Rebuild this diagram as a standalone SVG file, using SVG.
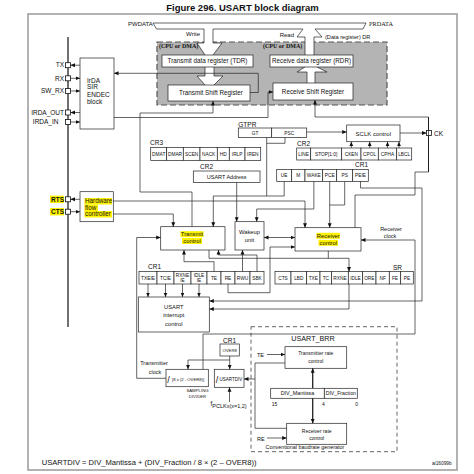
<svg xmlns="http://www.w3.org/2000/svg" width="474" height="474" viewBox="0 0 474 474">
<style>
text{font-family:"Liberation Sans",Arial,sans-serif;fill:#111}
.serif{font-family:"Liberation Serif","Times New Roman",serif}
.b{fill:#fff;stroke:#222;stroke-width:0.7}
.l{fill:none;stroke:#222;stroke-width:0.7}
.a{fill:none;stroke:#222;stroke-width:0.7;marker-end:url(#ah)}
.hl{fill:#fff200}
.pin{fill:#fff;stroke:#111;stroke-width:0.8}
.r{font-size:4.8px;text-anchor:middle}
.c{text-anchor:middle}
</style>
<defs>
<marker id="ah" viewBox="0 0 8 8" refX="8" refY="4" markerWidth="4.5" markerHeight="4.5" markerUnits="userSpaceOnUse" orient="auto-start-reverse"><path d="M0,0.5 L8,4 L0,7.5 z" fill="#111"/></marker>
</defs>
<rect width="474" height="474" fill="#fff"/>
<text x="242.5" y="11" font-size="9.5" font-weight="bold" class="c">Figure 296. USART block diagram</text>
<rect x="28" y="14" width="429" height="456" fill="none" stroke="#999" stroke-width="1.5"/>

<!-- data bus region -->
<g id="databus">
<text x="128" y="25.5" font-size="6">PWDATA</text>
<text x="369" y="25.5" font-size="6.3" class="serif">PRDATA</text>
<path class="l" d="M153,23 H366 L363,29 M153,23 L156.5,29 H204 M213,29 H303 M315,29 H363"/>
<text x="200" y="35.5" font-size="6" text-anchor="end">Write</text>
<text x="294" y="36.5" font-size="6" text-anchor="end">Read</text>
<text x="325" y="38.5" font-size="5.6">(Data register) DR</text>
</g>

<g id="cpu-dma-region">
<rect x="157" y="42" width="230" height="63" fill="#b4b4b4" stroke="#555" stroke-width="1.2" stroke-dasharray="6 3"/>
<text x="159" y="47.5" font-size="6" font-weight="bold" class="serif">(CPU or DMA)</text>
<text x="263" y="47.5" font-size="6" font-weight="bold" class="serif">(CPU or DMA)</text>
<polygon points="204,29 204,43 197,43 205,55 213,55 222,43 213,43 213,29" fill="#fff"/>
<path class="l" d="M204,29 V43 H197 L205,55 M213,55 L222,43 H213 V29"/>
<polygon points="305,55 305,37 297,37 303,29 315,29 322,37 314,37 314,55" fill="#fff"/>
<path class="l" d="M305,55 V37 H297 L303,29 M315,29 L322,37 H314 V55"/>
<polygon points="205,67 205,76 197,76 205,85 214,85 223,76 214,76 214,67" fill="#fff"/>
<path class="l" d="M205,67 V76 H197 L205,85 M214,85 L223,76 H214 V67"/>
<polygon points="307,83 307,72 297,72 305,67 317,67 327,72 315,72 315,83" fill="#fff"/>
<path class="l" d="M307,83 V72 H297 L305,67 M317,67 L327,72 H315 V83"/>
</g>
<g id="tdr"><rect class="b" x="162" y="55" width="91" height="12"/><text x="207.5" y="63.2" font-size="6.3" class="c">Transmit data register (TDR)</text></g>
<g id="rdr"><rect class="b" x="270" y="55" width="83" height="12"/><text x="311.5" y="63.2" font-size="6.3" class="c">Receive data register (RDR)</text></g>
<g id="tsr"><rect class="b" x="168" y="85" width="82" height="16"/><text x="211" y="95.2" font-size="6.3" class="c">Transmit Shift Register</text></g>
<g id="rsr"><rect class="b" x="273" y="83" width="80" height="17"/><text x="313" y="93.7" font-size="6.3" class="c">Receive Shift Register</text></g>

<!-- left pins -->
<g id="pins-left">
<line x1="68" y1="37" x2="68" y2="327" stroke="#111" stroke-width="1.2"/>
<text x="64" y="67.4" font-size="6.5" text-anchor="end">TX</text>
<text x="64" y="80.5" font-size="6.5" text-anchor="end">RX</text>
<text x="64" y="93.2" font-size="6.5" text-anchor="end">SW_RX</text>
<text x="64" y="114.7" font-size="6.5" text-anchor="end">IRDA_OUT</text>
<text x="58.5" y="124.2" font-size="6.5" text-anchor="end">IRDA_IN</text>
<rect class="hl" x="50" y="195.6" width="14" height="7.4"/>
<rect class="hl" x="50" y="208" width="14" height="7.4"/>
<text x="64" y="201.7" font-size="6.5" font-weight="bold" text-anchor="end">RTS</text>
<text x="64" y="214.1" font-size="6.5" font-weight="bold" text-anchor="end">CTS</text>
<rect class="pin" x="65.5" y="62.7" width="5" height="5"/>
<rect class="pin" x="65.5" y="75.8" width="5" height="5"/>
<rect class="pin" x="65.5" y="88.5" width="5" height="5"/>
<rect class="pin" x="65.5" y="110" width="5" height="5"/>
<rect class="pin" x="65.5" y="119.5" width="5" height="5"/>
<rect class="pin" x="65.5" y="196.8" width="5" height="5"/>
<rect class="pin" x="65.5" y="209.2" width="5" height="5"/>
</g>

<g id="irda"><rect class="b" x="80" y="58" width="34" height="71"/>
<text x="87" y="82.5" font-size="6.5">IrDA</text><text x="87" y="89" font-size="6.5">SIR</text><text x="87" y="96.8" font-size="6.5">ENDEC</text><text x="87" y="104" font-size="6.5">block</text></g>

<g id="hw-flow"><rect class="b" x="80" y="191.7" width="33.3" height="30"/>
<rect class="hl" x="84.5" y="198" width="27.5" height="6.5"/><rect class="hl" x="84.5" y="204.5" width="13.5" height="6.5"/><rect class="hl" x="84.5" y="211" width="27.5" height="6.5"/>
<text x="85" y="203" font-size="6.3">Hardware</text><text x="85" y="209.6" font-size="6.3">flow</text><text x="85" y="216.2" font-size="6.3">controller</text></g>

<!-- CK pin -->
<g id="pin-ck"><line x1="428.5" y1="117" x2="428.5" y2="172" stroke="#111" stroke-width="1"/>
<rect class="pin" x="426.5" y="130.5" width="5" height="5"/><text x="434" y="135.5" font-size="6.5">CK</text></g>

<g id="gtpr"><text x="238.3" y="126.5" font-size="6.5">GTPR</text>
<rect class="b" x="238.3" y="128" width="33.4" height="9.5"/><rect class="b" x="271.7" y="128" width="35" height="9.5"/>
<text x="255" y="134.6" class="r">GT</text><text x="289.2" y="134.6" class="r">PSC</text></g>

<g id="sclk"><rect class="b" x="346.7" y="125" width="53.3" height="16.7"/><text x="373.3" y="135.5" font-size="6" class="c">SCLK control</text></g>

<g id="cr3"><text x="150" y="145" font-size="6.5">CR3</text>
<rect class="b" x="150.7" y="147.5" width="16" height="13"/><text x="158.7" y="155.7" class="r">DMAT</text>
<rect class="b" x="166.7" y="147.5" width="16.6" height="13"/><text x="175" y="155.7" class="r">DMAR</text>
<rect class="b" x="183.3" y="147.5" width="16.7" height="13"/><text x="191.65" y="155.7" class="r">SCEN</text>
<rect class="b" x="200" y="147.5" width="17.3" height="13"/><text x="208.65" y="155.7" class="r">NACK</text>
<rect class="b" x="217.3" y="147.5" width="12" height="13"/><text x="223.3" y="155.7" class="r">HD</text>
<rect class="b" x="229.3" y="147.5" width="15.7" height="13"/><text x="237.15" y="155.7" class="r">IRLP</text>
<rect class="b" x="245" y="147.5" width="15.7" height="13"/><text x="252.85" y="155.7" class="r">IREN</text></g>

<g id="cr2-clock"><text x="297" y="146.3" font-size="6.5">CR2</text>
<rect class="b" x="296.7" y="148" width="14" height="12"/><text x="303.7" y="155.7" class="r">LINE</text>
<rect class="b" x="310.7" y="148" width="31" height="12"/><text x="326.2" y="155.7" class="r">STOP[1:0]</text>
<rect class="b" x="341.7" y="148" width="19.3" height="12"/><text x="351.35" y="155.7" class="r">CKEN</text>
<rect class="b" x="361" y="148" width="17.3" height="12"/><text x="369.65" y="155.7" class="r">CPOL</text>
<rect class="b" x="378.3" y="148" width="18.4" height="12"/><text x="387.5" y="155.7" class="r">CPHA</text>
<rect class="b" x="396.7" y="148" width="15" height="12"/><text x="404.2" y="155.7" class="r">LBCL</text></g>

<g id="cr2-address"><text x="200" y="169" font-size="6.5">CR2</text>
<rect class="b" x="193.3" y="171" width="66.7" height="11.5"/><text x="226.7" y="178.8" font-size="5.5" class="c">USART Address</text></g>

<g id="cr1-top"><text x="355" y="167.3" font-size="6.5">CR1</text>
<rect class="b" x="276.7" y="169.5" width="15" height="12"/><text x="284.2" y="177.2" class="r">UE</text>
<rect class="b" x="291.7" y="169.5" width="13.3" height="12"/><text x="298.35" y="177.2" class="r">M</text>
<rect class="b" x="305" y="169.5" width="17.7" height="12"/><text x="313.85" y="177.2" class="r">WAKE</text>
<rect class="b" x="322.7" y="169.5" width="14" height="12"/><text x="329.7" y="177.2" class="r">PCE</text>
<rect class="b" x="336.7" y="169.5" width="16" height="12"/><text x="344.7" y="177.2" class="r">PS</text>
<rect class="b" x="352.7" y="169.5" width="15.6" height="12"/><text x="360.5" y="177.2" class="r">PEIE</text></g>

<g id="transmit-control"><rect class="b" x="160.7" y="226.7" width="64.3" height="23.3"/>
<rect class="hl" x="180.5" y="231.2" width="23" height="6"/><rect class="hl" x="182" y="238" width="20" height="6"/>
<text x="192" y="236" font-size="5.8" class="c">Transmit</text><text x="192" y="243" font-size="5.8" class="c">control</text></g>

<g id="wakeup"><rect class="b" x="235" y="221.7" width="29" height="28.3"/>
<text x="249.5" y="233.8" font-size="5.8" class="c">Wakeup</text><text x="249.5" y="242" font-size="5.8" class="c">unit</text></g>

<g id="receiver-control"><rect class="b" x="295" y="227.7" width="66" height="23.3"/>
<rect class="hl" x="316.5" y="232.8" width="23.5" height="6"/><rect class="hl" x="318.5" y="239.8" width="19.5" height="6"/>
<text x="328.3" y="237.8" font-size="5.8" class="c">Receiver</text><text x="328.3" y="244.8" font-size="5.8" class="c">control</text></g>

<g id="cr1-bottom"><text x="148" y="269.3" font-size="6.5">CR1</text>
<rect class="b" x="139" y="271.5" width="18" height="12.5"/><text x="148" y="279.5" class="r">TXEIE</text>
<rect class="b" x="157" y="271.5" width="17" height="12.5"/><text x="165.5" y="279.5" class="r">TCIE</text>
<rect class="b" x="174" y="271.5" width="17" height="12.5"/><text x="182.5" y="276.6" class="r" font-size="4.4">RXNE</text><text x="182.5" y="282" class="r" font-size="4.4">IE</text>
<rect class="b" x="191" y="271.5" width="16" height="12.5"/><text x="199" y="276.6" class="r" font-size="4.4">IDLE</text><text x="199" y="282" class="r" font-size="4.4">IE</text>
<rect class="b" x="207" y="271.5" width="14" height="12.5"/><text x="214" y="279.5" class="r">TE</text>
<rect class="b" x="221" y="271.5" width="14" height="12.5"/><text x="228" y="279.5" class="r">RE</text>
<rect class="b" x="235" y="271.5" width="15" height="12.5"/><text x="242.5" y="279.5" class="r">RWU</text>
<rect class="b" x="250" y="271.5" width="14" height="12.5"/><text x="257" y="279.5" class="r">SBK</text></g>

<g id="sr"><text x="393" y="269.5" font-size="6.5">SR</text>
<rect class="b" x="275" y="271.5" width="16" height="12.5"/><text x="283" y="279.5" class="r">CTS</text>
<rect class="b" x="291" y="271.5" width="15.7" height="12.5"/><text x="298.85" y="279.5" class="r">LBD</text>
<rect class="b" x="306.7" y="271.5" width="13.3" height="12.5"/><text x="313.35" y="279.5" class="r">TXE</text>
<rect class="b" x="320" y="271.5" width="11.7" height="12.5"/><text x="325.85" y="279.5" class="r">TC</text>
<rect class="b" x="331.7" y="271.5" width="16.6" height="12.5"/><text x="340" y="279.5" class="r">RXNE</text>
<rect class="b" x="348.3" y="271.5" width="14.4" height="12.5"/><text x="355.5" y="279.5" class="r">IDLE</text>
<rect class="b" x="362.7" y="271.5" width="13.3" height="12.5"/><text x="369.35" y="279.5" class="r">ORE</text>
<rect class="b" x="376" y="271.5" width="13.3" height="12.5"/><text x="382.65" y="279.5" class="r">NF</text>
<rect class="b" x="389.3" y="271.5" width="11.4" height="12.5"/><text x="395" y="279.5" class="r">FE</text>
<rect class="b" x="400.7" y="271.5" width="12.6" height="12.5"/><text x="407" y="279.5" class="r">PE</text></g>

<g id="interrupt-control"><rect class="b" x="138.3" y="297" width="71" height="35"/>
<text x="173.8" y="308.8" font-size="5.8" class="c">USART</text><text x="173.8" y="317.4" font-size="5.8" class="c">interrupt</text><text x="173.8" y="325.6" font-size="5.8" class="c">control</text></g>

<g id="over8"><text x="223" y="342.5" font-size="6.5">CR1</text>
<rect class="b" x="220" y="344" width="19.3" height="12"/><text x="229.7" y="351.6" font-size="4.3" class="c">OVER8</text></g>

<g id="sampling-divider"><rect class="b" x="166" y="369.3" width="42.3" height="17.4"/>
<text x="167.3" y="382.5" font-size="9">/</text><text x="172" y="380.8" font-size="4.2">[8 x (2 - OVER8)]</text>
<text x="197.5" y="391.8" font-size="4.3" class="c">SAMPLING</text><text x="197.5" y="397.6" font-size="4.3" class="c">DIVIDER</text></g>

<g id="usartdiv"><rect class="b" x="214.3" y="369.3" width="29.7" height="18"/>
<text x="215.8" y="382.5" font-size="9">/</text><text x="219.5" y="380.8" font-size="4.5">USARTDIV</text></g>

<g id="fpclk"><text x="210.5" y="406" font-size="6.5">f<tspan font-size="5.5" dy="1.6">PCLKx(x=1,2)</tspan></text></g>

<g id="brr">
<rect x="251" y="326.7" width="146" height="125" fill="none" stroke="#555" stroke-width="0.9" stroke-dasharray="4 3"/>
<text x="313" y="341.2" font-size="7.2" class="c">USART_BRR</text>
<text x="305" y="449.3" font-size="5.4" class="c">Conventional baudrate generator</text>
</g>
<g id="tx-rate"><rect class="b" x="285" y="346.7" width="61.7" height="21.6"/>
<text x="315.8" y="355.2" font-size="5" class="c">Transmitter rate</text><text x="315.8" y="362.6" font-size="5" class="c">control</text>
<text x="257" y="357" font-size="5.5">TE</text></g>
<g id="rx-rate"><rect class="b" x="286.7" y="423.3" width="60" height="21"/>
<text x="316.7" y="432.8" font-size="5" class="c">Receiver rate</text><text x="316.7" y="439.8" font-size="5" class="c">control</text>
<text x="257" y="440.5" font-size="5.5">RE</text></g>
<g id="div-reg"><rect class="b" x="270.7" y="388.3" width="53.6" height="10"/><rect class="b" x="324.3" y="388.3" width="33" height="10"/>
<text x="297.5" y="395.2" font-size="5.4" class="c">DIV_Mantissa</text><text x="340.8" y="395.2" font-size="5.2" class="c">DIV_Fraction</text>
<text x="271.7" y="405.5" font-size="5">15</text><text x="323.3" y="405.5" font-size="5" class="c">4</text><text x="356.7" y="405.5" font-size="5" class="c">0</text></g>

<g id="labels">
<text x="154" y="365.3" font-size="5.5" class="c">Transmitter</text><text x="155" y="373.6" font-size="5.5" class="c">clock</text>
<text x="391" y="231.4" font-size="5.5" class="c">Receiver</text><text x="390" y="237.6" font-size="5.5" class="c">clock</text>
<text x="41.7" y="465" font-size="7.6">USARTDIV = DIV_Mantissa + (DIV_Fraction / 8 × (2 – OVER8))</text>
<text x="451.7" y="465" font-size="4.8" text-anchor="end">ai16099b</text>
</g>

<g id="connectors">
<path class="a" d="M80,65.2 H70.5"/>
<path class="a" d="M70.5,78.3 H80"/>
<path class="a" d="M70.5,91 H80"/>
<path class="a" d="M80,112.5 H70.5"/>
<path class="a" d="M70.5,122 H80"/>
<path class="a" d="M80,199.3 H70.5"/>
<path class="a" d="M70.5,211.7 H80"/>
<path class="a" d="M250,92.5 H258.3 V73.3 H114"/>
<path class="a" d="M114,117.5 H268 V92 H273"/>
<path class="a" d="M192,226.7 V192 H140 V113 H213 V101"/>
<path class="a" d="M355,227.7 V195 H415 V172 H428.5 V117 H315 V100"/>
<path class="a" d="M306.7,132 H346.7"/>
<path class="a" d="M351.3,148 V141.7"/>
<path class="a" d="M369.7,148 V141.7"/>
<path class="a" d="M387.5,148 V141.7"/>
<path class="a" d="M399,148 V141.7"/>
<path class="a" d="M400,133 H426.5"/>
<path class="a" d="M113.3,201 H305 V227.7"/>
<path class="a" d="M113.3,214 H173.3 V226.7"/>
<path class="l" d="M285,137.5 V143.3 H266.7 M266.7,137.5 V196"/>
<path class="a" d="M284.2,181.5 V196 H213.3 V226.7"/>
<path class="a" d="M236.7,182.5 V221.7"/>
<path class="a" d="M313.85,181.5 V209 H256.7 V221.7"/>
<path class="a" d="M329.7,181.5 V227.7"/>
<path class="l" d="M344.7,181.5 V205 H329.7"/>
<path class="a" d="M360.5,181.5 V188 H422 V301 H209.3"/>
<path class="a" style="marker-start:url(#ah)" d="M264,237.5 H295"/>
<path class="a" d="M228,284 V292.7 H270 V247 H295"/>
<path class="a" d="M209,250 V258.3 H349 V271.5"/>
<path class="l" d="M328.3,251 V258.3"/>
<path class="a" d="M349,284 V309 H209.3"/>
<path class="a" d="M148,284 V297"/>
<path class="a" d="M165.5,284 V297"/>
<path class="a" d="M182.5,284 V297"/>
<path class="a" d="M199,284 V297"/>
<path class="a" d="M214,271.5 V261.7 H184 V250"/>
<path class="a" d="M257,271.5 V255 H218.5 V250"/>
<path class="a" d="M242.5,271.5 V250"/>
<path class="a" d="M203,369.3 V334 H415 V240 H361"/>
<path class="a" d="M166,378.3 H136.7 V237.5 H160.7"/>
<path class="a" d="M229.7,356 V369.3"/>
<path class="a" d="M229.7,360 H188 V369.3"/>
<path class="a" d="M229.5,402 V387.3"/>
<path class="l" d="M285,363 H255 V428.3 H286.7"/>
<path class="a" d="M255,379 H244"/>
<path class="a" d="M267,354.5 H285"/>
<path class="a" d="M267,438 H286.7"/>
<path class="a" style="stroke-width:1.3" d="M312.7,388.3 V368.3"/>
<path class="a" style="stroke-width:1.3" d="M312.7,398.3 V423.3"/>
</g>
</svg>
